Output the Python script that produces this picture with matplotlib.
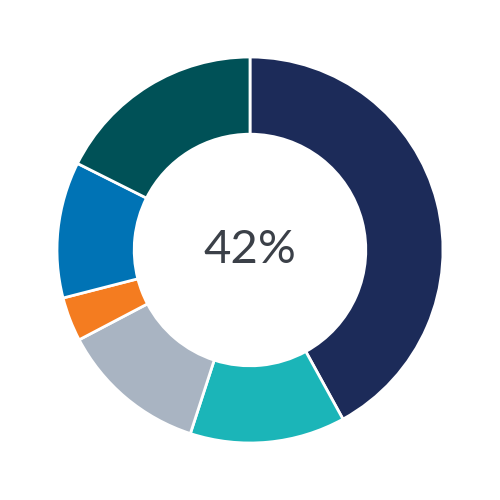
import matplotlib
matplotlib.use("Agg")
import matplotlib.pyplot as plt

# segment shares, clockwise from 12 o'clock
labels = ["A", "B", "C", "D", "E", "F"]
values = [42, 13, 12.3, 3.7, 11.4, 17.6]
colors = ["#1c2b59", "#1bb5b8", "#a9b4c2", "#f47c20", "#0073b5", "#005157"]
center_label = "42%"

fig = plt.figure(figsize=(5, 5), dpi=100)
ax = fig.add_axes([0, 0, 1, 1])

ax.pie(values, colors=colors, startangle=90, counterclock=False,
       radius=1.0,
       wedgeprops=dict(width=0.4, edgecolor="white", linewidth=2))
ax.text(0, 0, center_label, ha="center", va="center",
        fontsize=34, color="#3b4048", family="Lato")

lim = 250 / 193
ax.set_xlim(-lim, lim)
ax.set_ylim(-lim, lim)
ax.set_aspect("equal")
ax.axis("off")

fig.savefig("out.png", dpi=100)
